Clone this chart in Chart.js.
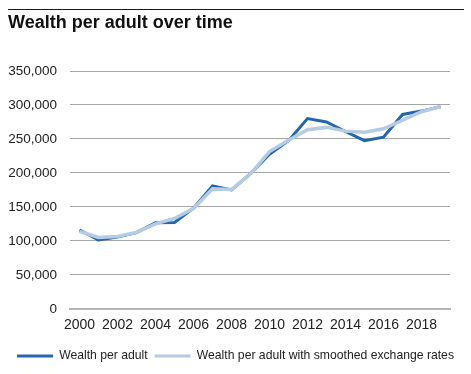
<!DOCTYPE html>
<html>
<head>
<meta charset="utf-8">
<script src="https://cdn.jsdelivr.net/npm/chart.js@4"></script>
<style>
  body { margin: 0; background: #fff; }
  #wrap { position: relative; width: 471px; height: 374px; }
  #rule { position: absolute; left: 8px; top: 9px; width: 456px; height: 1px; background: #1a1a1a; }
  #title { position: absolute; left: 8px; top: 12px; font: bold 18px "Liberation Sans", Arial, sans-serif; color: #111; }
  #chart { position: absolute; left: 0; top: 0; }
</style>
</head>
<body>
<div id="wrap">
  <canvas id="chart" width="471" height="374"></canvas>
  <div id="rule"></div>
  <div id="title">Wealth per adult over time</div>
</div>
<script>
const years = ['2000', '2001', '2002', '2003', '2004', '2005', '2006', '2007', '2008', '2009',
    '2010', '2011', '2012', '2013', '2014', '2015', '2016', '2017', '2018', '2019'];
const wealthPerAdult = [116000, 101500, 105500, 112000, 126500, 127000, 148000, 181000, 175000, 199000,
    227500, 247500, 280000, 275000, 261000, 247500, 252500, 286000, 291000, 297500];
const wealthSmoothed = [114000, 105000, 106500, 112500, 125000, 133000, 147500, 176500, 175500, 198500,
    231500, 248000, 263500, 267000, 261500, 260000, 265000, 277500, 290000, 297500];
const yTicks = [0, 50000, 100000, 150000, 200000, 250000, 300000, 350000];

const font = '"Liberation Sans", Arial, sans-serif';
const ctx = document.getElementById('chart').getContext('2d');

new Chart(ctx, {
    type: 'line',
    data: {
        labels: years,
        datasets: [{
            label: 'Wealth per adult',
            data: wealthPerAdult,
            borderColor: '#2466ab',
            backgroundColor: '#2466ab',
            borderWidth: 3,
            pointRadius: 0,
            tension: 0,
            order: 2
        }, {
            label: 'Wealth per adult with smoothed exchange rates',
            data: wealthSmoothed,
            borderColor: '#b4cbe3',
            backgroundColor: '#b4cbe3',
            borderWidth: 3.5,
            pointRadius: 0,
            tension: 0,
            order: 1
        }]
    },
    options: {
        responsive: false,
        animation: false,
        layout: { padding: { top: 71, right: 0, left: 0, bottom: 2 } },
        plugins: {
            tooltip: { enabled: false },
            legend: {
                position: 'bottom',
                labels: {
                    font: { family: font, size: 12.2 },
                    color: '#222',
                    boxWidth: 36,
                    boxHeight: 3,
                    padding: 7,
                    sort: (a, b) => a.datasetIndex - b.datasetIndex,
                    generateLabels: (chart) => Chart.defaults.plugins.legend.labels.generateLabels(chart)
                        .map(l => Object.assign(l, { lineWidth: 0 }))
                }
            }
        },
        scales: {
            x: {
                offset: true,
                afterFit: (s) => { s.height = 34; s.paddingRight = 21; },
                grid: { display: false, drawTicks: false },
                border: { display: true, color: '#b5b5b5', width: 2 },
                ticks: {
                    autoSkip: false,
                    maxRotation: 0,
                    padding: 8,
                    color: '#222',
                    font: { family: font, size: 14 },
                    callback: function (v, i) { return i % 2 === 0 ? years[i] : ''; }
                }
            },
            y: {
                min: 0,
                max: 350000,
                afterBuildTicks: (s) => { s.ticks = yTicks.map(v => ({ value: v })); },
                afterFit: (s) => { s.width = 70; },
                grid: { color: '#a6a6a6', lineWidth: 1, drawTicks: false },
                border: { display: false },
                ticks: {
                    padding: 13,
                    color: '#222',
                    font: { family: font, size: 13.5 },
                    callback: (v) => v.toLocaleString('en-US')
                }
            }
        }
    }
});
</script>
</body>
</html>
